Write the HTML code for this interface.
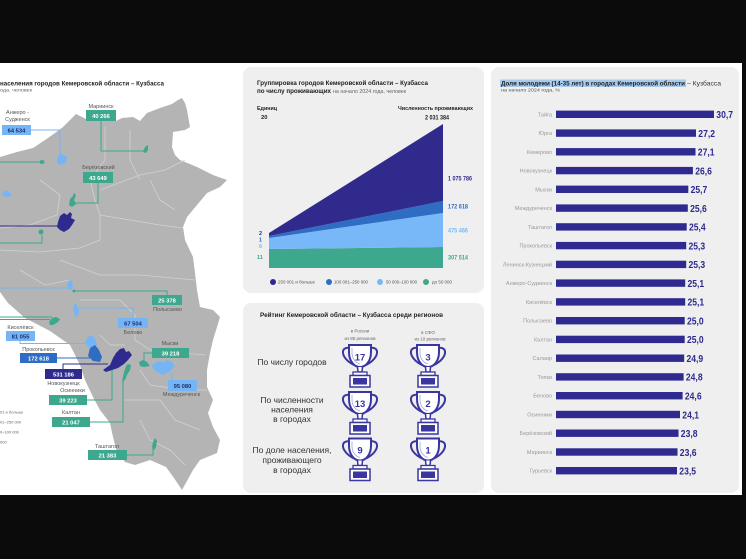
<!DOCTYPE html>
<html><head><meta charset="utf-8"><style>
html,body{margin:0;padding:0;background:#0b0b0b;width:746px;height:559px;overflow:hidden;}
svg{display:block;}
text{font-family:"Liberation Sans",sans-serif;}
</style></head><body>
<svg width="746" height="559" viewBox="0 0 746 559" xmlns="http://www.w3.org/2000/svg">
<rect width="746" height="559" fill="#0b0b0b"/>
<rect x="0" y="63" width="742" height="432" fill="#ffffff"/>

<!-- MAP -->
<polygon fill="#b4b4b4" points="0,157 17,152 33,148 45,140 55,133 63,127 70,120 76,114 84,118 90,121 116,121 122,118 133,117 140,121 147,113 160,108 172,104 178,100 182,98 185,103 187,110 190,127 185,130 173,132 172,147 175,155 180,160 197,167 213,175 227,180 220,187 207,193 197,205 187,217 183,227 185,240 193,257 195,273 197,290 200,307 213,310 220,317 217,327 213,340 210,353 207,370 207,387 213,400 208,413 213,427 220,440 217,453 200,460 193,470 182,490 174,478 166,467 150,460 135,465 125,462 117,452 113,437 110,423 100,410 93,397 85,380 80,365 70,345 50,331 25,318 8,303 0,292"/>
<g fill="none" stroke="#d2d2d2" stroke-width="0.8">
<polyline points="105,127 105,160 90,180 95,200 100,215 100,240"/>
<polyline points="100,190 140,175 165,170 185,160"/>
<polyline points="100,215 130,220 160,225 183,228"/>
<polyline points="0,250 40,252 80,248 100,240"/>
<polyline points="60,260 100,275 140,275 195,280"/>
<polyline points="80,300 120,300 135,315 135,340 150,350 205,355"/>
<polyline points="100,335 110,345 125,345"/>
<polyline points="140,370 150,385 185,390 207,390"/>
<polyline points="125,400 160,400 175,420 200,430"/>
<polyline points="40,180 60,195 57,215 30,225 0,228"/>
<polyline points="130,130 130,160 140,180"/>
<polyline points="150,180 160,200 175,210"/>
<polyline points="20,270 45,285 70,280"/>
<polyline points="140,420 150,440 170,450 185,465"/>
</g>

<!-- connectors -->
<g fill="none" stroke-width="1">
<path d="M31,130 H60 V157" stroke="#75b5f5"/>
<path d="M101,121 V151 H145" stroke="#3da88e"/>
<path d="M0,162 H42" stroke="#3da88e"/>
<path d="M98,183 V203 H75" stroke="#3da88e"/>
<path d="M0,226 H60" stroke="#2f2a8e"/>
<path d="M0,243 H42 V235" stroke="#3da88e"/>
<path d="M0,288 H67" stroke="#75b5f5"/>
<path d="M167,295 V291 H74" stroke="#3da88e"/>
<path d="M133,318 V308 H79" stroke="#75b5f5"/>
<path d="M0,317 H52 M0,319.5 H50" stroke="#3da88e"/>
<path d="M20,341 V343.5 H85" stroke="#75b5f5"/>
<path d="M57,358 H90" stroke="#2f6cc4"/>
<path d="M63,369 V364 H108" stroke="#2f2a8e"/>
<path d="M87,400 H112 V365" stroke="#3da88e"/>
<path d="M90,422 H123 V380" stroke="#3da88e"/>
<path d="M152,353 H144 V363" stroke="#3da88e"/>
<path d="M172,380 V373" stroke="#75b5f5"/>
<path d="M127,455 H153 V448" stroke="#3da88e"/>
</g>

<!-- blobs -->
<polygon fill="#75b5f5" points="57,158 60,153 63,155 67,157 66,163 60,165 57,163"/>
<polygon fill="#3da88e" points="143,152 145,147 148,145 148,150 146,153"/>
<ellipse cx="42" cy="162" rx="2.5" ry="2" fill="#3da88e"/>
<polygon fill="#75b5f5" points="2,193 6,190 9,192 12,195 8,197 3,196"/>
<polygon fill="#3da88e" points="69,205 70,199 73,196 74,193 76,195 74,200 76,204 72,207"/>
<polygon fill="#2f2a8e" points="58,222 60,216 64,213 67,215 70,212 72,214 71,218 75,220 72,225 69,229 64,232 60,230 57,227"/>
<ellipse cx="41" cy="232" rx="2.5" ry="2.5" fill="#3da88e"/>
<polygon fill="#75b5f5" points="67,284 69,280 72,281 73,286 71,290 68,289"/>
<circle cx="74" cy="291" r="1.5" fill="#3da88e"/>
<polygon fill="#75b5f5" points="73,307 75,303 77,305 79,310 78,316 75,317 74,312"/>
<polygon fill="#3da88e" points="49,322 52,318 56,317 60,319 58,322 53,325 50,325"/>
<polygon fill="#75b5f5" points="85,342 88,337 92,335 95,339 97,345 93,348 88,347"/>
<polygon fill="#2f6cc4" points="90,348 95,345 99,350 102,357 100,362 93,361 88,356"/>
<polygon fill="#2f2a8e" points="110,365 113,358 116,353 120,349 124,348 126,352 129,351 132,355 128,360 124,364 118,368 112,370 106,372 103,370"/>
<polygon fill="#3da88e" points="124,372 126,366 128,364 131,365 130,370 127,375 125,380 122,382"/>
<polygon fill="#3da88e" points="139,362 143,360 147,362 150,366 144,367 140,366"/>
<polygon fill="#75b5f5" points="152,365 158,361 163,362 167,360 172,362 175,366 170,371 163,375 157,372 153,369"/>
<polygon fill="#3da88e" points="152,447 153,442 155,438 157,441 156,447 154,450"/>

<!-- map texts -->
<text x="0" y="85.5" font-size="6.5" font-weight="bold" fill="#222" textLength="164" lengthAdjust="spacingAndGlyphs">населения городов Кемеровской области – Кузбасса</text>
<text x="0" y="91.5" font-size="4.8" fill="#666" textLength="32" lengthAdjust="spacingAndGlyphs">ода, человек</text>

<g font-size="5.5" fill="#555" text-anchor="middle">
<text x="17.5" y="114">Анжеро -</text>
<text x="17.5" y="121">Судженск</text>
<text x="101" y="108">Мариинск</text>
<text x="98.5" y="169">Берёзовский</text>
<text x="167.5" y="311">Полысаево</text>
<text x="133" y="334">Белово</text>
<text x="20.5" y="329">Киселёвск</text>
<text x="38.5" y="351">Прокопьевск</text>
<text x="170" y="345">Мыски</text>
<text x="63.5" y="385">Новокузнецк</text>
<text x="72.5" y="392">Осинники</text>
<text x="181.5" y="396">Междуреченск</text>
<text x="71" y="414">Калтан</text>
<text x="107" y="448">Таштагол</text>
</g>

<rect x="2" y="125" width="29" height="10" fill="#75b5f5"/>
<rect x="86" y="110" width="30" height="11" fill="#3da88e"/>
<rect x="83" y="172" width="30" height="11" fill="#3da88e"/>
<rect x="152" y="295" width="30" height="10" fill="#3da88e"/>
<rect x="118" y="318" width="30" height="10" fill="#75b5f5"/>
<rect x="6" y="331" width="29" height="10" fill="#75b5f5"/>
<rect x="20" y="353" width="37" height="10" fill="#2f6cc4"/>
<rect x="152" y="348" width="37" height="10" fill="#3da88e"/>
<rect x="45" y="369" width="37" height="10" fill="#2f2a8e"/>
<rect x="49" y="395" width="38" height="10" fill="#3da88e"/>
<rect x="168" y="380" width="29" height="11" fill="#75b5f5"/>
<rect x="52" y="417" width="38" height="10" fill="#3da88e"/>
<rect x="88" y="450" width="39" height="10" fill="#3da88e"/>

<g font-size="5.8" font-weight="bold" text-anchor="middle">
<text x="16.5" y="132.3" fill="#1f2d6e">64 534</text>
<text x="101" y="117.8" fill="#fff">40 266</text>
<text x="98" y="179.8" fill="#fff">43 649</text>
<text x="167" y="302.3" fill="#fff">25 378</text>
<text x="133" y="325.3" fill="#1f2d6e">67 504</text>
<text x="20.5" y="338.3" fill="#1f2d6e">81 055</text>
<text x="38.5" y="360.3" fill="#fff">172 618</text>
<text x="170.5" y="355.3" fill="#fff">39 218</text>
<text x="63.5" y="376.3" fill="#fff">531 186</text>
<text x="68" y="402.3" fill="#fff">39 223</text>
<text x="182.5" y="387.8" fill="#1f2d6e">95 080</text>
<text x="71" y="424.3" fill="#fff">21 047</text>
<text x="107.5" y="457.3" fill="#fff">21 383</text>
</g>
<g font-size="4" fill="#666">
<text x="0" y="413.5">01 и больше</text>
<text x="0" y="423.5">01–250 000</text>
<text x="0" y="433.5">0–100 000</text>
<text x="0" y="443.5">000</text>
</g>

<!-- CARDS -->
<rect x="243" y="67" width="241" height="226" rx="8" fill="#efefef"/>
<rect x="243" y="303" width="241" height="190" rx="8" fill="#efefef"/>
<rect x="491" y="67" width="248" height="426" rx="8" fill="#efefef"/>

<!-- Area chart card -->
<text x="257" y="85" font-size="6.5" font-weight="bold" fill="#222" textLength="171" lengthAdjust="spacingAndGlyphs">Группировка городов Кемеровской области – Кузбасса</text>
<text x="257" y="93" font-size="6.5" font-weight="bold" fill="#222" textLength="74" lengthAdjust="spacingAndGlyphs">по числу проживающих</text>
<text x="333" y="93" font-size="5.2" fill="#666" textLength="73" lengthAdjust="spacingAndGlyphs">на начало 2024 года, человек</text>
<text x="257" y="110" font-size="5.5" font-weight="bold" fill="#222" textLength="20" lengthAdjust="spacingAndGlyphs">Единиц</text>
<text x="261" y="119" font-size="5.8" font-weight="bold" fill="#222">20</text>
<text x="398" y="110" font-size="5.5" font-weight="bold" fill="#222" textLength="75" lengthAdjust="spacingAndGlyphs">Численность проживающих</text>
<text x="425" y="119.5" font-size="6" font-weight="bold" fill="#222" textLength="24" lengthAdjust="spacingAndGlyphs">2 031 384</text>

<polygon fill="#3da88e" points="269,268 269,249 443,247 443,268"/>
<polygon fill="#79b8f8" points="269,249 269,238 443,213 443,247"/>
<polygon fill="#2f6cc4" points="269,238 269,236 443,201 443,213"/>
<polygon fill="#302a8c" points="269,236 269,233 443,124 443,201"/>

<g font-size="6" font-weight="bold">
<text x="448" y="180.5" fill="#302a8c" textLength="24" lengthAdjust="spacingAndGlyphs">1 075 786</text>
<text x="448" y="208.5" fill="#2f6cc4" textLength="20" lengthAdjust="spacingAndGlyphs">172 618</text>
<text x="448" y="232.5" fill="#79b8f8" textLength="20" lengthAdjust="spacingAndGlyphs">475 466</text>
<text x="448" y="259.5" fill="#3da88e" textLength="20" lengthAdjust="spacingAndGlyphs">307 514</text>
</g>
<g font-size="5.5" font-weight="bold">
<text x="259" y="235" fill="#302a8c">2</text>
<text x="259" y="241.5" fill="#2f6cc4">1</text>
<text x="259" y="248" fill="#79b8f8">6</text>
<text x="257" y="259" fill="#3da88e">11</text>
</g>
<circle cx="273" cy="282" r="3" fill="#302a8c"/>
<circle cx="329" cy="282" r="3" fill="#2f6cc4"/>
<circle cx="380" cy="282" r="3" fill="#79b8f8"/>
<circle cx="426" cy="282" r="3" fill="#3da88e"/>
<g font-size="4.3" fill="#555">
<text x="278" y="283.5" textLength="37" lengthAdjust="spacingAndGlyphs">250 001 и больше</text>
<text x="334" y="283.5" textLength="34" lengthAdjust="spacingAndGlyphs">100 001–250 000</text>
<text x="386" y="283.5" textLength="31" lengthAdjust="spacingAndGlyphs">50 000–100 000</text>
<text x="432" y="283.5" textLength="20" lengthAdjust="spacingAndGlyphs">до 50 000</text>
</g>

<!-- Rating card -->
<text x="260" y="317" font-size="6" font-weight="bold" fill="#222" textLength="183" lengthAdjust="spacingAndGlyphs">Рейтинг Кемеровской области – Кузбасса  среди регионов</text>
<g font-size="4.5" fill="#666" text-anchor="middle">
<text x="360" y="332.5">в России</text>
<text x="360" y="340">из 85 регионов</text>
<text x="428" y="334">в СФО</text>
<text x="430" y="340.5">из 10 регионов</text>
</g>
<g font-size="8.5" fill="#333" text-anchor="middle">
<text x="292" y="365">По числу городов</text>
<text x="292" y="403">По численности</text>
<text x="292" y="412.5">населения</text>
<text x="292" y="422">в городах</text>
<text x="292" y="453">По доле населения,</text>
<text x="292" y="463">проживающего</text>
<text x="292" y="473">в городах</text>
</g>

<defs>
<g id="tr">
<path d="M-10,3 C-20,1 -20,13 -6,20" fill="none" stroke="#3a36a0" stroke-width="2"/>
<path d="M10,3 C20,1 20,13 6,20" fill="none" stroke="#3a36a0" stroke-width="2"/>
<path d="M-11,0 H11 V7 C11,16 6,22 0,22 C-6,22 -11,16 -11,7 Z" fill="#fff" stroke="#3a36a0" stroke-width="2"/>
<path d="M-8,3 V8 C-8,14 -4,18 0,19" fill="none" stroke="#9aa6e6" stroke-width="0.8"/>
<path d="M-2.5,22 L-2,27 H2 L2.5,22" fill="#fff" stroke="#3a36a0" stroke-width="1.5"/>
<rect x="-7" y="27" width="14" height="3.5" fill="#fff" stroke="#3a36a0" stroke-width="1.3"/>
<rect x="-10" y="30.5" width="20" height="11.5" fill="#fff" stroke="#3a36a0" stroke-width="1.5"/>
<rect x="-7" y="33" width="14" height="6.5" fill="#3a36a0"/>
</g>
</defs>
<use href="#tr" x="360" y="345"/>
<use href="#tr" x="428" y="345"/>
<use href="#tr" x="360" y="392"/>
<use href="#tr" x="428" y="392"/>
<use href="#tr" x="360" y="438.5"/>
<use href="#tr" x="428" y="438.5"/>
<g font-size="9.5" font-weight="bold" fill="#3a36a0" text-anchor="middle">
<text x="360" y="360.5">17</text>
<text x="428" y="360.5">3</text>
<text x="360" y="407">13</text>
<text x="428" y="407">2</text>
<text x="360" y="453.5">9</text>
<text x="428" y="453.5">1</text>
</g>

<!-- Right bar chart card -->
<rect x="500" y="79.5" width="186" height="7.5" fill="#a7cbee"/>
<text x="501" y="85.3" font-size="6" font-weight="bold" fill="#222" textLength="184" lengthAdjust="spacingAndGlyphs">Доля молодежи (14-35 лет) в городах Кемеровской области</text>
<text x="687" y="85.3" font-size="6" fill="#333" textLength="34" lengthAdjust="spacingAndGlyphs">– Кузбасса</text>
<text x="501" y="91.5" font-size="4.8" fill="#555" textLength="59" lengthAdjust="spacingAndGlyphs">на начало 2024 года, %</text>

<g fill="#2e2a8f">
<rect x="556" y="110.6" width="158.0" height="7.4"/>
<rect x="556" y="129.4" width="140.0" height="7.4"/>
<rect x="556" y="148.1" width="139.5" height="7.4"/>
<rect x="556" y="166.9" width="136.9" height="7.4"/>
<rect x="556" y="185.6" width="132.3" height="7.4"/>
<rect x="556" y="204.4" width="131.8" height="7.4"/>
<rect x="556" y="223.2" width="130.7" height="7.4"/>
<rect x="556" y="241.9" width="130.2" height="7.4"/>
<rect x="556" y="260.7" width="130.2" height="7.4"/>
<rect x="556" y="279.4" width="129.2" height="7.4"/>
<rect x="556" y="298.2" width="129.2" height="7.4"/>
<rect x="556" y="317.0" width="128.7" height="7.4"/>
<rect x="556" y="335.7" width="128.7" height="7.4"/>
<rect x="556" y="354.5" width="128.2" height="7.4"/>
<rect x="556" y="373.2" width="127.6" height="7.4"/>
<rect x="556" y="392.0" width="126.6" height="7.4"/>
<rect x="556" y="410.8" width="124.0" height="7.4"/>
<rect x="556" y="429.5" width="122.5" height="7.4"/>
<rect x="556" y="448.3" width="121.5" height="7.4"/>
<rect x="556" y="467.0" width="121.0" height="7.4"/>
</g>
<g font-size="5.5" fill="#9a9a9a" text-anchor="end">
<text x="552" y="116.3">Тайга</text>
<text x="552" y="135.1">Юрга</text>
<text x="552" y="153.8">Кемерово</text>
<text x="552" y="172.6">Новокузнецк</text>
<text x="552" y="191.3">Мыски</text>
<text x="552" y="210.1">Междуреченск</text>
<text x="552" y="228.9">Таштагол</text>
<text x="552" y="247.6">Прокопьевск</text>
<text x="552" y="266.4">Ленинск-Кузнецкий</text>
<text x="552" y="285.1">Анжеро-Судженск</text>
<text x="552" y="303.9">Киселёвск</text>
<text x="552" y="322.7">Полысаево</text>
<text x="552" y="341.4">Калтан</text>
<text x="552" y="360.2">Салаир</text>
<text x="552" y="378.9">Топки</text>
<text x="552" y="397.7">Белово</text>
<text x="552" y="416.5">Осинники</text>
<text x="552" y="435.2">Берёзовский</text>
<text x="552" y="454.0">Мариинск</text>
<text x="552" y="472.7">Гурьевск</text>
</g>
<g font-size="10.5" font-weight="bold" fill="#2e2a8f">
<text x="716.3" y="118.1" textLength="16.7" lengthAdjust="spacingAndGlyphs">30,7</text>
<text x="698.3" y="136.9" textLength="16.7" lengthAdjust="spacingAndGlyphs">27,2</text>
<text x="697.8" y="155.6" textLength="16.7" lengthAdjust="spacingAndGlyphs">27,1</text>
<text x="695.2" y="174.4" textLength="16.7" lengthAdjust="spacingAndGlyphs">26,6</text>
<text x="690.6" y="193.1" textLength="16.7" lengthAdjust="spacingAndGlyphs">25,7</text>
<text x="690.1" y="211.9" textLength="16.7" lengthAdjust="spacingAndGlyphs">25,6</text>
<text x="689.0" y="230.7" textLength="16.7" lengthAdjust="spacingAndGlyphs">25,4</text>
<text x="688.5" y="249.4" textLength="16.7" lengthAdjust="spacingAndGlyphs">25,3</text>
<text x="688.5" y="268.2" textLength="16.7" lengthAdjust="spacingAndGlyphs">25,3</text>
<text x="687.5" y="286.9" textLength="16.7" lengthAdjust="spacingAndGlyphs">25,1</text>
<text x="687.5" y="305.7" textLength="16.7" lengthAdjust="spacingAndGlyphs">25,1</text>
<text x="687.0" y="324.5" textLength="16.7" lengthAdjust="spacingAndGlyphs">25,0</text>
<text x="687.0" y="343.2" textLength="16.7" lengthAdjust="spacingAndGlyphs">25,0</text>
<text x="686.5" y="362.0" textLength="16.7" lengthAdjust="spacingAndGlyphs">24,9</text>
<text x="685.9" y="380.7" textLength="16.7" lengthAdjust="spacingAndGlyphs">24,8</text>
<text x="684.9" y="399.5" textLength="16.7" lengthAdjust="spacingAndGlyphs">24,6</text>
<text x="682.3" y="418.3" textLength="16.7" lengthAdjust="spacingAndGlyphs">24,1</text>
<text x="680.8" y="437.0" textLength="16.7" lengthAdjust="spacingAndGlyphs">23,8</text>
<text x="679.8" y="455.8" textLength="16.7" lengthAdjust="spacingAndGlyphs">23,6</text>
<text x="679.3" y="474.5" textLength="16.7" lengthAdjust="spacingAndGlyphs">23,5</text>
</g>
</svg>
</body></html>
